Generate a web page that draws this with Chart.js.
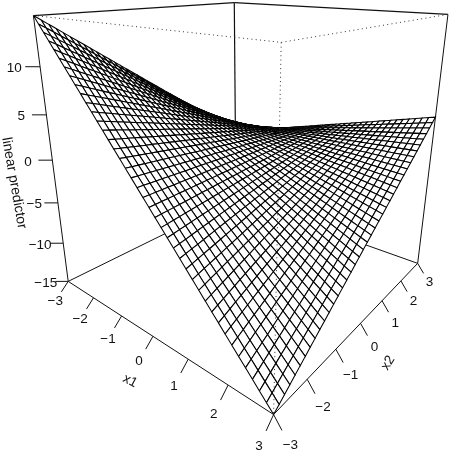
<!DOCTYPE html>
<html>
<head>
<meta charset="utf-8">
<style>
  html, body { margin: 0; padding: 0; background: #fff; }
  canvas { display: block; }
</style>
<script src="https://cdn.jsdelivr.net/npm/chart.js@4"></script>
</head>
<body>
<canvas id="myChart" width="453" height="453"></canvas>
<script>
// Surface values
const x1Grid = [-3,-2.85,-2.7,-2.55,-2.4,-2.25,-2.1,-1.95,-1.8,-1.65,-1.5,-1.35,-1.2,-1.05,-0.9,-0.75,-0.6,-0.45,-0.3,-0.15,0,0.15,0.3,0.45,0.6,0.75,0.9,1.05,1.2,1.35,1.5,1.65,1.8,1.95,2.1,2.25,2.4,2.55,2.7,2.85,3];
const x2Grid = [-3,-2.85,-2.7,-2.55,-2.4,-2.25,-2.1,-1.95,-1.8,-1.65,-1.5,-1.35,-1.2,-1.05,-0.9,-0.75,-0.6,-0.45,-0.3,-0.15,0,0.15,0.3,0.45,0.6,0.75,0.9,1.05,1.2,1.35,1.5,1.65,1.8,1.95,2.1,2.25,2.4,2.55,2.7,2.85,3];
// one row per x2Grid value, one column per x1Grid value
const zRows = [
[15,14.25,13.5,12.75,12,11.25,10.5,9.75,9,8.25,7.5,6.75,6,5.25,4.5,3.75,3,2.25,1.5,.75,0,-.75,-1.5,-2.25,-3,-3.75,-4.5,-5.25,-6,-6.75,-7.5,-8.25,-9,-9.75,-10.5,-11.25,-12,-12.75,-13.5,-14.25,-15],
[14.53,13.8,13.08,12.35,11.62,10.9,10.17,9.44,8.72,7.99,7.27,6.54,5.81,5.09,4.36,3.63,2.91,2.18,1.45,.73,0,-.73,-1.45,-2.18,-2.91,-3.63,-4.36,-5.09,-5.81,-6.54,-7.27,-7.99,-8.72,-9.44,-10.17,-10.9,-11.62,-12.35,-13.08,-13.8,-14.53],
[14.06,13.36,12.65,11.95,11.25,10.55,9.84,9.14,8.44,7.73,7.03,6.33,5.62,4.92,4.22,3.52,2.81,2.11,1.41,.7,0,-.7,-1.41,-2.11,-2.81,-3.52,-4.22,-4.92,-5.62,-6.33,-7.03,-7.73,-8.44,-9.14,-9.84,-10.55,-11.25,-11.95,-12.65,-13.36,-14.06],
[13.59,12.91,12.23,11.55,10.87,10.19,9.51,8.83,8.15,7.47,6.8,6.12,5.44,4.76,4.08,3.4,2.72,2.04,1.36,.68,0,-.68,-1.36,-2.04,-2.72,-3.4,-4.08,-4.76,-5.44,-6.12,-6.8,-7.47,-8.15,-8.83,-9.51,-10.19,-10.87,-11.55,-12.23,-12.91,-13.59],
[13.12,12.46,11.81,11.15,10.5,9.84,9.18,8.53,7.87,7.22,6.56,5.9,5.25,4.59,3.94,3.28,2.62,1.97,1.31,.66,0,-.66,-1.31,-1.97,-2.62,-3.28,-3.94,-4.59,-5.25,-5.9,-6.56,-7.22,-7.87,-8.53,-9.18,-9.84,-10.5,-11.15,-11.81,-12.46,-13.12],
[12.65,12.02,11.39,10.75,10.12,9.49,8.86,8.22,7.59,6.96,6.33,5.69,5.06,4.43,3.8,3.16,2.53,1.9,1.27,.63,0,-.63,-1.27,-1.9,-2.53,-3.16,-3.8,-4.43,-5.06,-5.69,-6.33,-6.96,-7.59,-8.22,-8.86,-9.49,-10.12,-10.75,-11.39,-12.02,-12.65],
[12.18,11.57,10.96,10.35,9.74,9.14,8.53,7.92,7.31,6.7,6.09,5.48,4.87,4.26,3.65,3.05,2.44,1.83,1.22,.61,0,-.61,-1.22,-1.83,-2.44,-3.05,-3.65,-4.26,-4.87,-5.48,-6.09,-6.7,-7.31,-7.92,-8.53,-9.14,-9.74,-10.35,-10.96,-11.57,-12.18],
[11.71,11.12,10.54,9.95,9.37,8.78,8.2,7.61,7.03,6.44,5.86,5.27,4.68,4.1,3.51,2.93,2.34,1.76,1.17,.59,0,-.59,-1.17,-1.76,-2.34,-2.93,-3.51,-4.1,-4.68,-5.27,-5.86,-6.44,-7.03,-7.61,-8.2,-8.78,-9.37,-9.95,-10.54,-11.12,-11.71],
[11.24,10.68,10.12,9.55,8.99,8.43,7.87,7.31,6.74,6.18,5.62,5.06,4.5,3.93,3.37,2.81,2.25,1.69,1.12,.56,0,-.56,-1.12,-1.69,-2.25,-2.81,-3.37,-3.93,-4.5,-5.06,-5.62,-6.18,-6.74,-7.31,-7.87,-8.43,-8.99,-9.55,-10.12,-10.68,-11.24],
[10.77,10.23,9.69,9.15,8.62,8.08,7.54,7,6.46,5.92,5.39,4.85,4.31,3.77,3.23,2.69,2.15,1.62,1.08,.54,0,-.54,-1.08,-1.62,-2.15,-2.69,-3.23,-3.77,-4.31,-4.85,-5.39,-5.92,-6.46,-7,-7.54,-8.08,-8.62,-9.15,-9.69,-10.23,-10.77],
[10.3,9.79,9.27,8.76,8.24,7.73,7.21,6.7,6.18,5.67,5.15,4.64,4.12,3.61,3.09,2.58,2.06,1.55,1.03,.52,0,-.52,-1.03,-1.55,-2.06,-2.58,-3.09,-3.61,-4.12,-4.64,-5.15,-5.67,-6.18,-6.7,-7.21,-7.73,-8.24,-8.76,-9.27,-9.79,-10.3],
[9.83,9.34,8.85,8.36,7.86,7.37,6.88,6.39,5.9,5.41,4.92,4.42,3.93,3.44,2.95,2.46,1.97,1.47,.98,.49,0,-.49,-.98,-1.47,-1.97,-2.46,-2.95,-3.44,-3.93,-4.42,-4.92,-5.41,-5.9,-6.39,-6.88,-7.37,-7.86,-8.36,-8.85,-9.34,-9.83],
[9.36,8.89,8.42,7.96,7.49,7.02,6.55,6.08,5.62,5.15,4.68,4.21,3.74,3.28,2.81,2.34,1.87,1.4,.94,.47,0,-.47,-.94,-1.4,-1.87,-2.34,-2.81,-3.28,-3.74,-4.21,-4.68,-5.15,-5.62,-6.08,-6.55,-7.02,-7.49,-7.96,-8.42,-8.89,-9.36],
[8.89,8.45,8,7.56,7.11,6.67,6.22,5.78,5.33,4.89,4.45,4,3.56,3.11,2.67,2.22,1.78,1.33,.89,.44,0,-.44,-.89,-1.33,-1.78,-2.22,-2.67,-3.11,-3.56,-4,-4.45,-4.89,-5.33,-5.78,-6.22,-6.67,-7.11,-7.56,-8,-8.45,-8.89],
[8.42,8,7.58,7.16,6.74,6.32,5.89,5.47,5.05,4.63,4.21,3.79,3.37,2.95,2.53,2.11,1.68,1.26,.84,.42,0,-.42,-.84,-1.26,-1.68,-2.11,-2.53,-2.95,-3.37,-3.79,-4.21,-4.63,-5.05,-5.47,-5.89,-6.32,-6.74,-7.16,-7.58,-8,-8.42],
[7.95,7.55,7.16,6.76,6.36,5.96,5.57,5.17,4.77,4.37,3.98,3.58,3.18,2.78,2.39,1.99,1.59,1.19,.8,.4,0,-.4,-.8,-1.19,-1.59,-1.99,-2.39,-2.78,-3.18,-3.58,-3.98,-4.37,-4.77,-5.17,-5.57,-5.96,-6.36,-6.76,-7.16,-7.55,-7.95],
[7.48,7.11,6.73,6.36,5.98,5.61,5.24,4.86,4.49,4.11,3.74,3.37,2.99,2.62,2.24,1.87,1.5,1.12,.75,.37,0,-.37,-.75,-1.12,-1.5,-1.87,-2.24,-2.62,-2.99,-3.37,-3.74,-4.11,-4.49,-4.86,-5.24,-5.61,-5.98,-6.36,-6.73,-7.11,-7.48],
[7.01,6.66,6.31,5.96,5.61,5.26,4.91,4.56,4.21,3.86,3.51,3.15,2.8,2.45,2.1,1.75,1.4,1.05,.7,.35,0,-.35,-.7,-1.05,-1.4,-1.75,-2.1,-2.45,-2.8,-3.15,-3.51,-3.86,-4.21,-4.56,-4.91,-5.26,-5.61,-5.96,-6.31,-6.66,-7.01],
[6.54,6.21,5.89,5.56,5.23,4.91,4.58,4.25,3.92,3.6,3.27,2.94,2.62,2.29,1.96,1.64,1.31,.98,.65,.33,0,-.33,-.65,-.98,-1.31,-1.64,-1.96,-2.29,-2.62,-2.94,-3.27,-3.6,-3.92,-4.25,-4.58,-4.91,-5.23,-5.56,-5.89,-6.21,-6.54],
[6.07,5.77,5.46,5.16,4.86,4.55,4.25,3.95,3.64,3.34,3.04,2.73,2.43,2.12,1.82,1.52,1.21,.91,.61,.3,0,-.3,-.61,-.91,-1.21,-1.52,-1.82,-2.12,-2.43,-2.73,-3.04,-3.34,-3.64,-3.95,-4.25,-4.55,-4.86,-5.16,-5.46,-5.77,-6.07],
[5.6,5.32,5.04,4.76,4.48,4.2,3.92,3.64,3.36,3.08,2.8,2.52,2.24,1.96,1.68,1.4,1.12,.84,.56,.28,0,-.28,-.56,-.84,-1.12,-1.4,-1.68,-1.96,-2.24,-2.52,-2.8,-3.08,-3.36,-3.64,-3.92,-4.2,-4.48,-4.76,-5.04,-5.32,-5.6],
[5.13,4.87,4.62,4.36,4.1,3.85,3.59,3.33,3.08,2.82,2.57,2.31,2.05,1.8,1.54,1.28,1.03,.77,.51,.26,0,-.26,-.51,-.77,-1.03,-1.28,-1.54,-1.8,-2.05,-2.31,-2.57,-2.82,-3.08,-3.33,-3.59,-3.85,-4.1,-4.36,-4.62,-4.87,-5.13],
[4.66,4.43,4.19,3.96,3.73,3.5,3.26,3.03,2.8,2.56,2.33,2.1,1.86,1.63,1.4,1.17,.93,.7,.47,.23,0,-.23,-.47,-.7,-.93,-1.17,-1.4,-1.63,-1.86,-2.1,-2.33,-2.56,-2.8,-3.03,-3.26,-3.5,-3.73,-3.96,-4.19,-4.43,-4.66],
[4.19,3.98,3.77,3.56,3.35,3.14,2.93,2.72,2.51,2.3,2.1,1.89,1.68,1.47,1.26,1.05,.84,.63,.42,.21,0,-.21,-.42,-.63,-.84,-1.05,-1.26,-1.47,-1.68,-1.89,-2.1,-2.3,-2.51,-2.72,-2.93,-3.14,-3.35,-3.56,-3.77,-3.98,-4.19],
[3.72,3.53,3.35,3.16,2.98,2.79,2.6,2.42,2.23,2.05,1.86,1.67,1.49,1.3,1.12,.93,.74,.56,.37,.19,0,-.19,-.37,-.56,-.74,-.93,-1.12,-1.3,-1.49,-1.67,-1.86,-2.05,-2.23,-2.42,-2.6,-2.79,-2.98,-3.16,-3.35,-3.53,-3.72],
[3.25,3.09,2.93,2.76,2.6,2.44,2.28,2.11,1.95,1.79,1.63,1.46,1.3,1.14,.98,.81,.65,.49,.33,.16,0,-.16,-.33,-.49,-.65,-.81,-.98,-1.14,-1.3,-1.46,-1.63,-1.79,-1.95,-2.11,-2.28,-2.44,-2.6,-2.76,-2.93,-3.09,-3.25],
[2.78,2.64,2.5,2.36,2.22,2.09,1.95,1.81,1.67,1.53,1.39,1.25,1.11,.97,.83,.7,.56,.42,.28,.14,0,-.14,-.28,-.42,-.56,-.7,-.83,-.97,-1.11,-1.25,-1.39,-1.53,-1.67,-1.81,-1.95,-2.09,-2.22,-2.36,-2.5,-2.64,-2.78],
[2.31,2.19,2.08,1.96,1.85,1.73,1.62,1.5,1.39,1.27,1.16,1.04,.92,.81,.69,.58,.46,.35,.23,.12,0,-.12,-.23,-.35,-.46,-.58,-.69,-.81,-.92,-1.04,-1.16,-1.27,-1.39,-1.5,-1.62,-1.73,-1.85,-1.96,-2.08,-2.19,-2.31],
[1.84,1.75,1.66,1.56,1.47,1.38,1.29,1.2,1.1,1.01,.92,.83,.74,.64,.55,.46,.37,.28,.18,.09,0,-.09,-.18,-.28,-.37,-.46,-.55,-.64,-.74,-.83,-.92,-1.01,-1.1,-1.2,-1.29,-1.38,-1.47,-1.56,-1.66,-1.75,-1.84],
[1.37,1.3,1.23,1.16,1.1,1.03,.96,.89,.82,.75,.69,.62,.55,.48,.41,.34,.27,.21,.14,.07,0,-.07,-.14,-.21,-.27,-.34,-.41,-.48,-.55,-.62,-.69,-.75,-.82,-.89,-.96,-1.03,-1.1,-1.16,-1.23,-1.3,-1.37],
[.9,.86,.81,.77,.72,.68,.63,.59,.54,.5,.45,.41,.36,.32,.27,.23,.18,.14,.09,.05,0,-.05,-.09,-.14,-.18,-.23,-.27,-.32,-.36,-.41,-.45,-.5,-.54,-.59,-.63,-.68,-.72,-.77,-.81,-.86,-.9],
[.43,.41,.39,.37,.34,.32,.3,.28,.26,.24,.22,.19,.17,.15,.13,.11,.09,.06,.04,.02,0,-.02,-.04,-.06,-.09,-.11,-.13,-.15,-.17,-.19,-.22,-.24,-.26,-.28,-.3,-.32,-.34,-.37,-.39,-.41,-.43],
[-.04,-.04,-.04,-.03,-.03,-.03,-.03,-.03,-.02,-.02,-.02,-.02,-.02,-.01,-.01,-.01,-.01,-.01,0,0,0,0,0,.01,.01,.01,.01,.01,.02,.02,.02,.02,.02,.03,.03,.03,.03,.03,.04,.04,.04],
[-.51,-.48,-.46,-.43,-.41,-.38,-.36,-.33,-.31,-.28,-.26,-.23,-.2,-.18,-.15,-.13,-.1,-.08,-.05,-.03,0,.03,.05,.08,.1,.13,.15,.18,.2,.23,.26,.28,.31,.33,.36,.38,.41,.43,.46,.48,.51],
[-.98,-.93,-.88,-.83,-.78,-.74,-.69,-.64,-.59,-.54,-.49,-.44,-.39,-.34,-.29,-.25,-.2,-.15,-.1,-.05,0,.05,.1,.15,.2,.25,.29,.34,.39,.44,.49,.54,.59,.64,.69,.74,.78,.83,.88,.93,.98],
[-1.45,-1.38,-1.31,-1.23,-1.16,-1.09,-1.02,-.94,-.87,-.8,-.73,-.65,-.58,-.51,-.44,-.36,-.29,-.22,-.15,-.07,0,.07,.15,.22,.29,.36,.44,.51,.58,.65,.73,.8,.87,.94,1.02,1.09,1.16,1.23,1.31,1.38,1.45],
[-1.92,-1.82,-1.73,-1.63,-1.54,-1.44,-1.34,-1.25,-1.15,-1.06,-.96,-.86,-.77,-.67,-.58,-.48,-.38,-.29,-.19,-.1,0,.1,.19,.29,.38,.48,.58,.67,.77,.86,.96,1.06,1.15,1.25,1.34,1.44,1.54,1.63,1.73,1.82,1.92],
[-2.39,-2.27,-2.15,-2.03,-1.91,-1.79,-1.67,-1.55,-1.43,-1.31,-1.2,-1.08,-.96,-.84,-.72,-.6,-.48,-.36,-.24,-.12,0,.12,.24,.36,.48,.6,.72,.84,.96,1.08,1.2,1.31,1.43,1.55,1.67,1.79,1.91,2.03,2.15,2.27,2.39],
[-2.86,-2.72,-2.57,-2.43,-2.29,-2.15,-2,-1.86,-1.72,-1.57,-1.43,-1.29,-1.14,-1,-.86,-.72,-.57,-.43,-.29,-.14,0,.14,.29,.43,.57,.72,.86,1,1.14,1.29,1.43,1.57,1.72,1.86,2,2.15,2.29,2.43,2.57,2.72,2.86],
[-3.33,-3.16,-3,-2.83,-2.66,-2.5,-2.33,-2.16,-2,-1.83,-1.67,-1.5,-1.33,-1.17,-1,-.83,-.67,-.5,-.33,-.17,0,.17,.33,.5,.67,.83,1,1.17,1.33,1.5,1.67,1.83,2,2.16,2.33,2.5,2.66,2.83,3,3.16,3.33],
[-3.8,-3.61,-3.42,-3.23,-3.04,-2.85,-2.66,-2.47,-2.28,-2.09,-1.9,-1.71,-1.52,-1.33,-1.14,-.95,-.76,-.57,-.38,-.19,0,.19,.38,.57,.76,.95,1.14,1.33,1.52,1.71,1.9,2.09,2.28,2.47,2.66,2.85,3.04,3.23,3.42,3.61,3.8]
];

// Axis ticks
const x1Ticks = [-3, -2, -1, 0, 1, 2, 3];
const x2Ticks = [-3, -2, -1, 0, 1, 2, 3];
const zTicks = [-15, -10, -5, 0, 5, 10];

const X_MAX = 3, Z_MAX = 15;

// view of the box, like persp()
const project = (x1, x2, z) => {
  const u = x1 / X_MAX, v = x2 / X_MAX, w = z / Z_MAX;
  const h = 1 - 0.156 * u + 0.192 * v - 0.085 * w;
  return {
    x: (248.78 + 65.05 * u + 133.28 * v - 21.1 * w) / h,
    y: (154.43 + 5.18 * u - 5.15 * v - 140.75 * w) / h,
    h: h
  };
};

const segment = (a, b, extra) => Object.assign({
  type: 'scatter',
  data: [project(a[0], a[1], a[2]), project(b[0], b[1], b[2])],
  showLine: true,
  borderColor: '#111',
  borderWidth: 1,
  pointRadius: 0,
  fill: false,
  order: 100
}, extra);

const datasets = [];
const L = -X_MAX, H = X_MAX, ZL = -Z_MAX, ZH = Z_MAX;

// back of the box, behind the surface
datasets.push(segment([L, L, ZL], [L, H, ZL]));
datasets.push(segment([L, H, ZL], [H, H, ZL]));
datasets.push(segment([L, H, ZL], [L, H, ZH], { borderWidth: 1.2 }));
datasets.push(segment([L, L, ZH], [L, H, ZH], { borderWidth: 1.2 }));
datasets.push(segment([L, H, ZH], [H, H, ZH], { borderWidth: 1.2 }));
datasets.push(segment([L, L, ZL], [L, L, ZH]));
datasets.push(segment([H, H, ZL], [H, H, ZH]));

// surface cells, far ones first
for (let j = 0; j < x2Grid.length - 1; j++) {
  for (let i = 0; i < x1Grid.length - 1; i++) {
    const pts = [
      project(x1Grid[i], x2Grid[j], zRows[j][i]),
      project(x1Grid[i + 1], x2Grid[j], zRows[j][i + 1]),
      project(x1Grid[i + 1], x2Grid[j + 1], zRows[j + 1][i + 1]),
      project(x1Grid[i], x2Grid[j + 1], zRows[j + 1][i]),
    ];
    pts.push(pts[0]);
    datasets.push({
      type: 'scatter',
      data: pts,
      showLine: true,
      borderColor: '#000',
      borderWidth: 1.05,
      backgroundColor: '#fff',
      pointRadius: 0,
      fill: 'shape',
      order: (pts[0].h + pts[1].h + pts[2].h + pts[3].h) / 4
    });
  }
}

// front of the box, dotted
const dotted = { borderDash: [1, 3.3], borderWidth: 1, order: -1, borderColor: '#333' };
datasets.push(segment([L, L, ZH], [H, L, ZH], dotted));
datasets.push(segment([H, L, ZH], [H, H, ZH], dotted));
datasets.push(segment([H, L, ZH], [H, L, ZL], dotted));

// axes and ticks
datasets.push(segment([L, L, ZL], [H, L, ZL], { order: -2 }));
datasets.push(segment([H, L, ZL], [H, H, ZL], { order: -2 }));
x1Ticks.forEach(t => datasets.push(segment([t, L, ZL], [t, L - 0.2, ZL - 0.9], { order: -2 })));
x2Ticks.forEach(t => datasets.push(segment([H, t, ZL], [H + 0.175, t, ZL - 1.08], { order: -2 })));
zTicks.forEach(t => datasets.push(segment([L, L, t], [L - 0.228, L - 0.192, t], { order: -2 })));

const fmt = t => String(t).replace('-', '\u2212');

const axisText = {
  id: 'axisText',
  afterDraw(chart) {
    const { ctx, scales } = chart;
    const put = (p, text, angle) => {
      ctx.save();
      ctx.translate(scales.x.getPixelForValue(p.x), scales.y.getPixelForValue(p.y));
      ctx.rotate((angle || 0) * Math.PI / 180);
      ctx.fillText(text, 0, 0);
      ctx.restore();
    };
    ctx.save();
    ctx.fillStyle = '#111';
    ctx.font = '13.5px "Liberation Sans"';
    ctx.textAlign = 'center';
    ctx.textBaseline = 'middle';
    x1Ticks.forEach(t => put(project(t, L - 0.38, ZL - 1.72), fmt(t)));
    x2Ticks.forEach(t => put(project(H + 0.35, t, ZL - 2.05), fmt(t)));
    zTicks.forEach(t => put(project(L - 0.4, L - 0.34, t - 0.2), fmt(t)));
    put({ x: 130, y: 381 }, 'x1', 28);
    put({ x: 388, y: 363 }, 'x2', -58);
    ctx.font = '14px "Liberation Sans"';
    put({ x: 14, y: 183 }, 'linear predictor', 80);
    ctx.restore();
  }
};

new Chart(document.getElementById('myChart'), {
  type: 'scatter',
  data: { datasets: datasets },
  options: {
    responsive: false,
    animation: false,
    layout: { padding: 0 },
    elements: { line: { tension: 0 } },
    plugins: { legend: { display: false }, tooltip: { enabled: false } },
    scales: {
      x: { type: 'linear', min: 0, max: 453, display: false },
      y: { type: 'linear', min: 0, max: 453, reverse: true, display: false }
    }
  },
  plugins: [axisText]
});
</script>
</body>
</html>
